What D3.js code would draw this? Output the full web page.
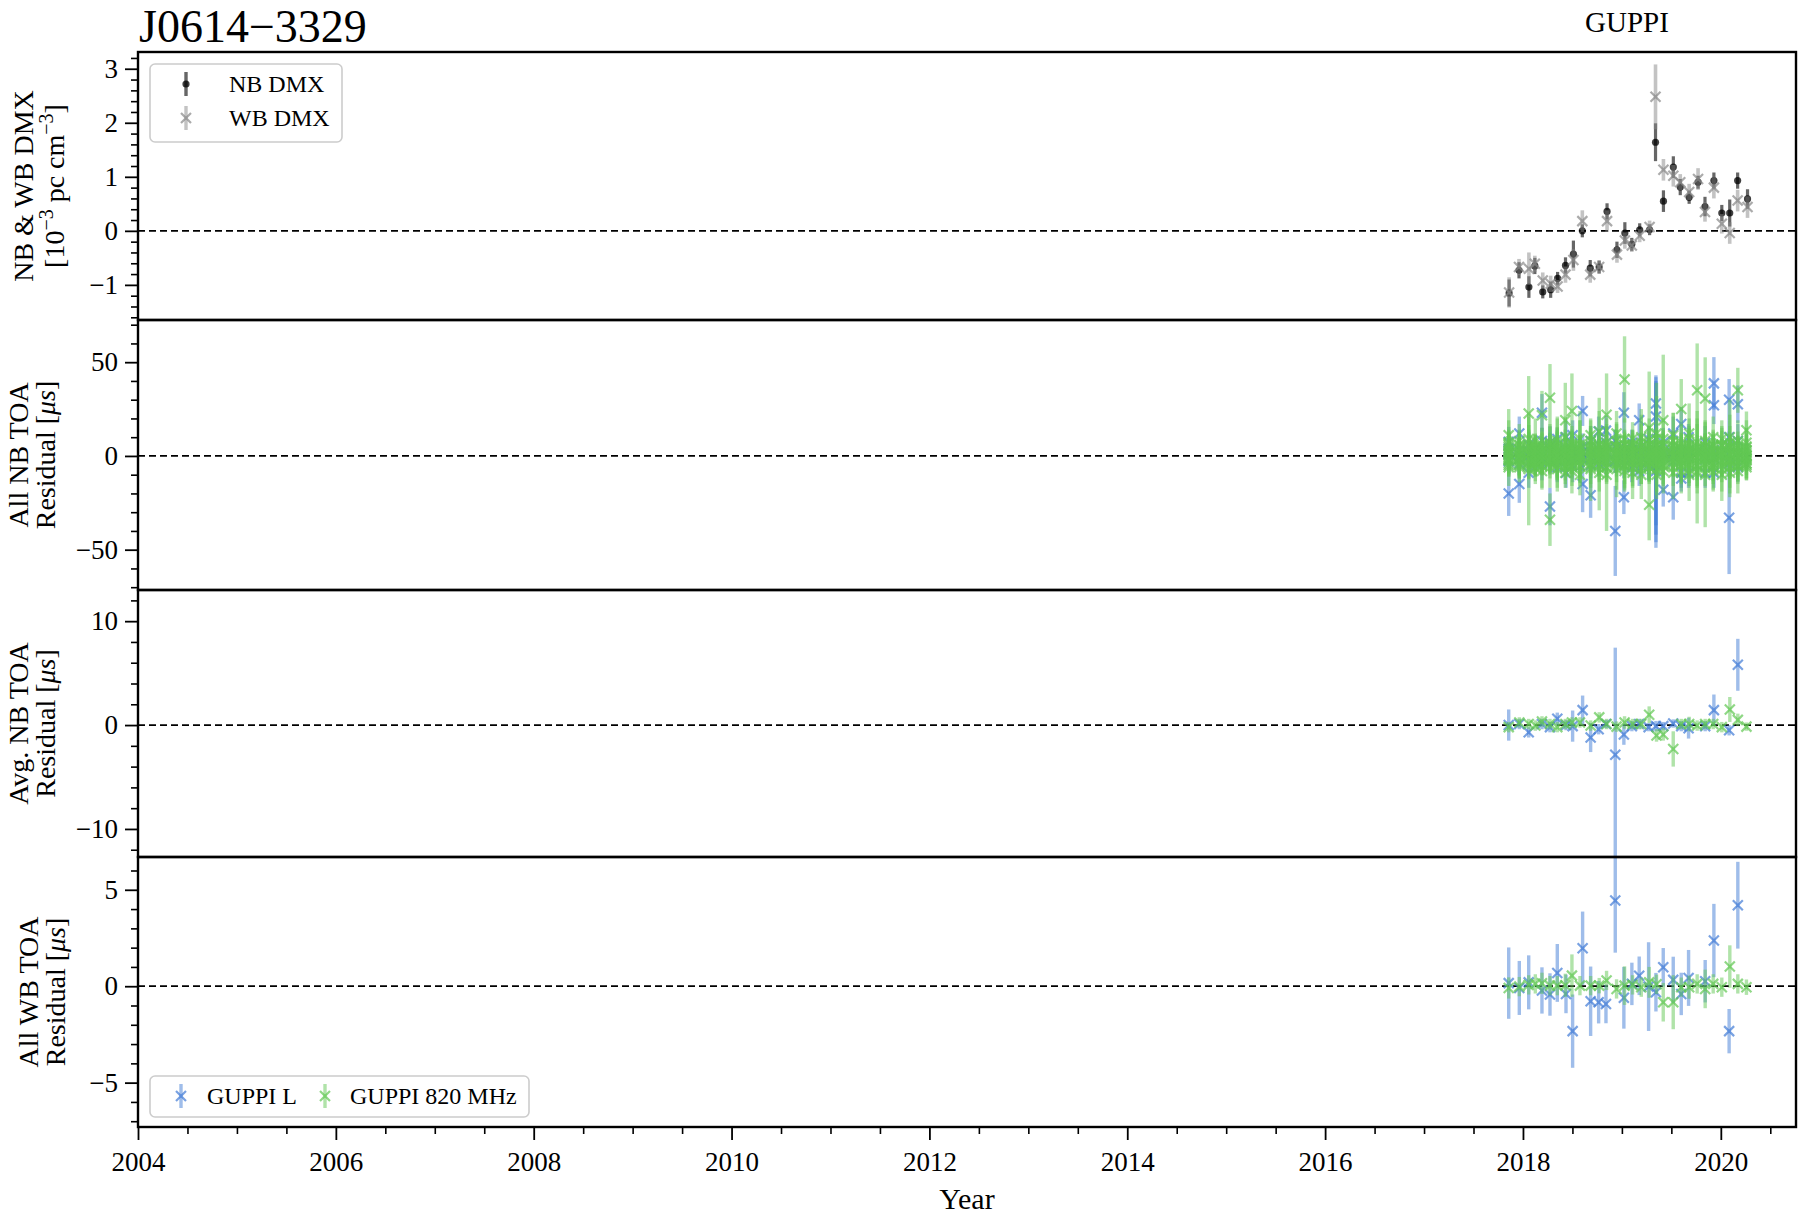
<!DOCTYPE html>
<html>
<head>
<meta charset="utf-8">
<script src="https://cdn.jsdelivr.net/npm/d3@7"></script>
<style>
  body { margin: 0; background: #fff; }
  text { font-family: "Liberation Serif", "Times New Roman", serif; fill: #000; }
</style>
</head>
<body>
<svg id="chart" width="1800" height="1216"></svg>
<script>
// ---- DMX (panel 1) ----
const dmxYears = [2017.86, 2017.96, 2018.06, 2018.12, 2018.20, 2018.28, 2018.35, 2018.43, 2018.51, 2018.60,
  2018.68, 2018.77, 2018.85, 2018.95, 2019.03, 2019.10, 2019.18, 2019.28, 2019.34, 2019.42,
  2019.52, 2019.59, 2019.68, 2019.77, 2019.84, 2019.93, 2020.01, 2020.09, 2020.17, 2020.27]
const nbDmx = [-1.15, -0.73, -1.04, -0.65, -1.13, -1.09, -0.88, -0.64, -0.43, 0.0,
  -0.69, -0.67, 0.36, -0.35, -0.04, -0.25, 0.02, 0.02, 1.64, 0.55,
  1.18, 0.81, 0.62, 0.9, 0.45, 0.93, 0.33, 0.33, 0.93, 0.59]
const nbDmxErr = [0.25, 0.15, 0.2, 0.15, 0.12, 0.15, 0.12, 0.15, 0.25, 0.12,
  0.15, 0.12, 0.15, 0.15, 0.2, 0.12, 0.12, 0.1, 0.35, 0.2,
  0.2, 0.15, 0.12, 0.12, 0.18, 0.15, 0.15, 0.25, 0.15, 0.18]
const wbDmx = [-1.14, -0.67, -0.7, -0.61, -0.92, -0.98, -1.03, -0.81, -0.54, 0.18,
  -0.81, -0.67, 0.18, -0.44, -0.18, -0.27, -0.09, 0.07, 2.48, 1.13,
  1.02, 0.9, 0.72, 0.96, 0.35, 0.8, 0.13, -0.04, 0.56, 0.44]
const wbDmxErr = [0.28, 0.15, 0.3, 0.15, 0.15, 0.15, 0.12, 0.15, 0.2, 0.2,
  0.15, 0.12, 0.2, 0.15, 0.15, 0.12, 0.12, 0.12, 0.6, 0.2,
  0.2, 0.15, 0.15, 0.2, 0.18, 0.2, 0.18, 0.2, 0.2, 0.2]

// ---- epochs per receiver ----
const yearsL = [2017.856, 2017.963, 2018.058, 2018.192, 2018.273, 2018.347, 2018.435, 2018.502, 2018.603, 2018.684,
  2018.765, 2018.839, 2018.933, 2019.020, 2019.101, 2019.175, 2019.270, 2019.344, 2019.418, 2019.519,
  2019.600, 2019.674, 2019.842, 2019.930, 2020.084, 2020.172]
const years820 = [2017.856, 2017.963, 2018.058, 2018.125, 2018.192, 2018.273, 2018.347, 2018.428, 2018.495, 2018.576,
  2018.684, 2018.771, 2018.845, 2018.946, 2019.027, 2019.108, 2019.196, 2019.276, 2019.350, 2019.418,
  2019.519, 2019.600, 2019.680, 2019.761, 2019.842, 2019.923, 2020.010, 2020.091, 2020.172, 2020.259]

// ---- all NB TOA residuals (panel 2), one list per epoch ----
const nbResL = [
  [-20, 7.5, -3, 2, 1, -2, 4], [-15, 12, 3, -4, 0.5, -1.5], [-9, 6, 0, 2.5, -3], [23, -4, 2, 8, -1, 3], [-27, 5, -3, 7, 1.5],
  [3, -6, 9, 1, -2.5], [-9, 10, 2, -3, 0.5, 4], [11, -5, 3, -1, 1.5], [24, -15, 5, -2, 0, 2], [-21, 8, 2, -5, 1, -1],
  [13, -4, 6, 0.5, -2], [13.5, -3, 2, 7, -1], [-40, 5, -2, 8, 1, -3], [23, -22, 3, -5, 0.5, 2], [-6, 7, 1, -1.5, 3],
  [19, -8, 3, 0, -2.5], [-5, 9, 2, -3, 1], [28, 21, -5, 3, 0, -8], [-18, 7, 2, -1, 0.5], [-22, 12, -3, 1.5, -0.5],
  [17, -9, 2, -12, 0.5, 3], [-9, 10, 3, -1, 1], [-9, 7, 2, 0, -2], [38.7, 27, -9, 3, -1], [30, -33, 5, -4, 10, 0.5], [27.6, -6, 2, 8, -1]]
const nbErrL = [
  [12, 8, 6, 5, 6, 7, 5], [10, 9, 7, 6, 5, 7], [8, 7, 6, 6, 5], [10, 9, 6, 7, 6, 5], [10, 8, 6, 9, 6],
  [7, 8, 6, 5, 6], [8, 9, 6, 7, 5, 6], [8, 9, 6, 7, 5], [8, 15, 7, 6, 6, 5], [12, 8, 6, 7, 6, 5],
  [8, 7, 6, 6, 5], [8, 7, 6, 9, 6], [24, 9, 7, 6, 5, 6], [11, 9, 8, 7, 6, 5], [8, 7, 6, 5, 6],
  [9, 8, 7, 6, 5], [8, 7, 6, 7, 6], [12, 10, 44, 40, 42, 38], [9, 8, 6, 5, 6], [12, 9, 7, 6, 5],
  [9, 8, 6, 7, 5, 6], [8, 7, 6, 5, 6], [8, 9, 7, 6, 5], [14, 10, 8, 6, 5], [11, 30, 8, 7, 9, 5], [10, 8, 7, 9, 6]]
const nbRes820 = [
  [11, 3, -2, 5, -4, 1, -6, 7], [2, -3, 6, -1, 4, -5, 0, 8], [22.6, -4, 3, -7, 1, 5, -2, 9],
  [-3, 4, 1, -6, 8, -1, 3, -4], [21.7, -5, 2, 6, -2, 4, -8, 0], [31, -34, 4, -3, 7, -1, 2, -6],
  [5, -2, 8, -7, 1, 3, -4, 0], [19, -9, 2, -3, 10, 0, 4, -5], [24, -6, 3, -2, 7, -8, 1, 5],
  [4, -3, 9, -5, 1, -10, 6, 0], [3, -7, 11, -2, 5, -4, 0, 8], [-5, 6, 2, -9, 4, -1, 13, 1],
  [22, -6, 3, 7, -3, 0, -10, 5], [-4, 2, 8, -7, 0, 5, -2, 12], [40.8, -5, 3, -8, 6, 1, -3, 9],
  [-2, 5, -6, 9, 1, -4, 3, -9], [5, -7, 2, 10, -3, 7, -1, -10], [-26, 6, -3, 2, 8, -6, 0, 15],
  [-7, 3, 9, -2, 5, -10, 1, 12], [19, -3, 6, -8, 2, 9, -5, 0], [8, -6, 3, -2, 11, -9, 0, 5],
  [25, -4, 2, 7, -8, 0, 4, -3], [3, -7, 9, -2, 6, -10, 1, 12], [35, -5, 2, -9, 7, 0, -8, 4],
  [30.6, -6, 3, 8, -2, 5, -10, 0], [-4, 6, 1, -8, 10, -1, 3, -6], [5, -3, 9, -7, 2, -10, 0, 6],
  [-2, 7, -6, 3, 10, -9, 1, 5], [35, -5, 2, 8, -3, 6, -8, 0], [13.7, -4, 3, 7, -6, 0, 5, -2]]
const nbErr820 = [
  [14, 6, 8, 9, 7, 5, 10, 12], [7, 9, 6, 8, 10, 7, 5, 9], [20, 8, 7, 30, 6, 9, 7, 12],
  [8, 7, 11, 9, 12, 6, 8, 7], [13, 12, 7, 9, 8, 6, 10, 7], [18, 14, 8, 9, 10, 7, 6, 11],
  [9, 7, 12, 10, 20, 6, 9, 13], [20, 8, 9, 7, 11, 6, 8, 10], [20, 10, 8, 9, 7, 12, 6, 8],
  [20, 9, 10, 8, 7, 11, 13, 6], [12, 10, 9, 8, 7, 20, 6, 11], [9, 8, 7, 10, 6, 8, 11, 30],
  [22, 9, 8, 10, 7, 6, 30, 8], [10, 8, 9, 11, 7, 6, 20, 12], [23, 12, 9, 10, 8, 7, 16, 11],
  [10, 7, 11, 9, 8, 12, 6, 14], [20, 8, 9, 12, 7, 10, 6, 13], [19, 10, 9, 7, 12, 8, 6, 30],
  [12, 9, 30, 8, 10, 13, 7, 20], [35, 9, 8, 12, 7, 11, 10, 6], [15, 10, 8, 9, 12, 14, 7, 8],
  [16, 11, 9, 10, 12, 7, 8, 9], [12, 9, 11, 8, 10, 14, 7, 16], [25, 12, 9, 11, 10, 7, 28, 20],
  [22, 10, 9, 11, 8, 7, 28, 6], [9, 8, 12, 10, 11, 7, 6, 13], [11, 8, 10, 12, 7, 14, 6, 9],
  [10, 9, 11, 8, 12, 13, 7, 25], [12, 10, 9, 11, 8, 7, 12, 6], [10, 8, 9, 12, 7, 6, 10, 8]]
// the many small-residual 820 MHz TOAs that make the solid core of panel 2
const coreRes820 = [
  [1.5, -2.5, 4, -1, 2.5, -5, 0.5, 6], [-1.5, 3.5, -4.5, 0.5, 2, -2, 5.5, -6], [0.5, -1.5, 2.5, -3.5, 4.5, -5.5, 1, 6.5],
  [2, -2.5, 5, -0.5, 1.5, -4, 3.5, -6.5], [-1, 1.5, -3, 3, -5.5, 5, 0, -2], [1, -1.5, 3.5, -4, 5.5, -2.5, 0.5, 6],
  [-0.5, 2.5, -3, 4.5, -5, 1.5, -1.5, 6.5], [1.5, -2, 3, -4.5, 5, -6, 0, 2.5], [-1, 2, -3.5, 4, -5, 0.5, 6, -2.5],
  [2.5, -1, 3.5, -3, 0.5, -5.5, 5, -1.5], [-2, 1, 4, -4.5, 2.5, -1, 6, -6], [1, -3, 3, -0.5, 5, -5, 2, -2],
  [-1.5, 2, -4, 4.5, 0.5, -6, 1.5, 5.5], [2, -1, 3.5, -3.5, 5, -5, 0, 1], [-0.5, 2.5, -2.5, 4, -4.5, 6, -6, 1],
  [1.5, -1.5, 3, -4, 4.5, -2.5, 0, 6], [-1, 1, -3.5, 3.5, -5.5, 5, 2, -2], [0.5, -2, 2.5, -4, 4, -5.5, 6, -1],
  [1.5, -1, 3.5, -3, 5.5, -4.5, 0, 2], [-2, 1, -4, 3, 5, -5.5, 1.5, -0.5], [1, -2.5, 3, -4, 5.5, -1, 0, 4],
  [-1.5, 2, -3, 3.5, -5, 5.5, 0.5, -2], [2, -1, 4, -4, 0.5, -5.5, 5, -2.5], [-1, 1.5, -3.5, 3, -5, 5, 0, 2.5],
  [1.5, -1.5, 3.5, -3.5, 5, -4.5, 0.5, -1], [-0.5, 2.5, -2, 4.5, -4.5, 5.5, 0, -6], [1, -2, 3, -3.5, 5.5, -5, 0.5, 2],
  [-1.5, 1.5, -3, 4, -5, 5, 0, -2.5], [2, -1, 3.5, -4, 4.5, -5.5, 0.5, 1.5], [-1, 1.5, -2.5, 3, -4, 4.5, 0, -5]]
const coreErr820 = [
  [6, 5, 8, 7, 9, 6, 10, 7], [5, 7, 6, 8, 6, 9, 7, 8], [7, 6, 9, 5, 8, 7, 6, 10],
  [6, 8, 5, 7, 9, 6, 8, 7], [8, 6, 7, 9, 5, 8, 6, 7], [7, 5, 8, 6, 10, 7, 9, 6],
  [6, 7, 9, 8, 6, 5, 7, 9], [8, 6, 7, 5, 9, 7, 6, 8], [5, 8, 6, 9, 7, 6, 10, 7],
  [7, 6, 8, 7, 5, 9, 6, 8], [6, 9, 7, 6, 8, 5, 7, 9], [8, 7, 5, 9, 6, 8, 7, 6],
  [7, 6, 9, 7, 5, 8, 6, 10], [6, 8, 7, 5, 9, 6, 8, 7], [9, 7, 6, 8, 7, 5, 9, 6],
  [6, 5, 8, 7, 9, 6, 7, 8], [7, 8, 6, 9, 5, 7, 8, 6], [8, 6, 7, 5, 9, 8, 6, 7],
  [6, 7, 9, 8, 6, 7, 5, 9], [7, 5, 6, 9, 8, 6, 7, 8], [9, 6, 8, 7, 5, 9, 6, 7],
  [6, 8, 7, 6, 9, 7, 5, 8], [7, 6, 5, 8, 7, 9, 6, 7], [8, 7, 9, 6, 8, 5, 7, 6],
  [6, 9, 7, 8, 6, 7, 8, 5], [7, 6, 8, 5, 9, 6, 7, 9], [5, 8, 6, 7, 8, 9, 6, 7],
  [8, 7, 9, 6, 7, 5, 8, 6], [6, 5, 7, 9, 6, 8, 7, 8], [7, 8, 6, 5, 9, 7, 6, 7]]

// ---- averaged NB TOA residuals (panel 3) ----
const avgResL = [0.0, 0.1, -0.7, 0.1, -0.2, 0.6, 0.0, -0.1, 1.44, -1.2,
  -0.4, 0.1, -2.85, -0.9, -0.1, 0.1, -0.2, -0.1, -0.1, 0.15,
  -0.1, -0.3, -0.1, 1.44, -0.5, 5.8]
const avgErrL = [1.5, 0.5, 0.5, 0.5, 0.5, 0.6, 0.5, 1.5, 1.4, 1.4,
  0.5, 0.4, 10.3, 1.0, 0.5, 0.5, 0.4, 0.5, 0.4, 0.4,
  0.5, 1.0, 0.5, 1.5, 0.5, 2.5]
const avgRes820 = [-0.2, 0.25, 0.1, -0.05, 0.35, 0.1, -0.2, 0.1, 0.25, 0.25,
  -0.05, 0.74, 0.1, -0.15, 0.25, 0.1, 0.1, 1.0, -1.0, -0.9,
  -2.3, 0.1, 0.1, -0.05, 0.1, 0.1, -0.2, 1.5, 0.5, -0.15]
const avgErr820 = [0.5, 0.5, 0.5, 0.5, 0.5, 0.5, 0.5, 0.5, 0.5, 0.5,
  0.5, 0.5, 0.5, 0.5, 0.6, 0.5, 0.5, 0.8, 0.6, 0.6,
  1.7, 0.5, 0.7, 0.5, 0.5, 0.5, 0.5, 1.2, 0.6, 0.4]

// ---- WB TOA residuals (panel 4) ----
const wbResL = [0.16, -0.09, 0.2, -0.22, -0.43, 0.69, -0.4, -2.33, 1.97, -0.78,
  -0.83, -0.92, 4.44, -0.6, 0.12, 0.54, -0.02, -0.31, 0.98, 0.33,
  -0.4, 0.43, 0.26, 2.37, -2.33, 4.2]
const wbErrL = [1.85, 1.4, 1.4, 1.2, 1.1, 1.5, 1.0, 1.9, 1.9, 1.8,
  1.1, 1.0, 2.7, 1.6, 1.1, 1.0, 2.3, 1.0, 1.0, 1.2,
  1.1, 1.45, 1.1, 1.9, 1.15, 2.25]
const wbRes820 = [-0.09, -0.02, 0.07, 0.12, 0.15, 0.03, 0.03, 0.05, 0.55, 0.03,
  0.03, 0.03, 0.3, -0.14, 0.03, 0.07, -0.05, 0.2, 0.1, -0.83,
  -0.83, -0.05, -0.05, 0.12, -0.14, 0.12, -0.05, 1.02, 0.12, -0.05]
const wbErr820 = [0.55, 0.5, 0.5, 0.5, 0.55, 0.5, 0.5, 0.6, 1.1, 0.5,
  0.5, 0.4, 0.5, 0.5, 1.0, 0.5, 0.5, 0.8, 0.5, 1.0,
  1.4, 0.5, 0.6, 0.5, 1.0, 0.5, 0.5, 1.1, 0.5, 0.4]

const xTicks = [2004, 2006, 2008, 2010, 2012, 2014, 2016, 2018, 2020]
const colorL = "#407BD5"
const color820 = "#61C853"

// ------------------------------------------------------------------
const svg = d3.select("#chart")
const left = 138, right = 1796
const x = d3.scaleLinear().domain([2004, 2020.76]).range([left, right])

const panels = [
  { top: 52, bottom: 320, domain: [-1.65, 3.31], major: [-1, 0, 1, 2, 3], minorStep: 0.2,
    label: ["NB & WB DMX", "dmxunit"], labelX: [23, 54] },
  { top: 320, bottom: 590, domain: [-71.5, 72.5], major: [-50, 0, 50], minorStep: 10,
    label: ["All NB TOA", "res"], labelX: [18, 45] },
  { top: 590, bottom: 857, domain: [-12.7, 13.0], major: [-10, 0, 10], minorStep: 2,
    label: ["Avg. NB TOA", "res"], labelX: [18, 45] },
  { top: 857, bottom: 1127, domain: [-7.3, 6.7], major: [-5, 0, 5], minorStep: 1,
    label: ["All WB TOA", "res"], labelX: [28, 55] },
]

const fmt = d3.format("")

panels.forEach((p, i) => {
  p.y = d3.scaleLinear().domain(p.domain).range([p.bottom, p.top])
  const g = svg.append("g")
  p.g = g

  g.append("clipPath").attr("id", "clip" + i)
    .append("rect").attr("x", left).attr("y", p.top).attr("width", right - left).attr("height", p.bottom - p.top)

  // minor ticks
  const minor = d3.range(Math.ceil(p.domain[0] / p.minorStep), Math.floor(p.domain[1] / p.minorStep) + 1)
    .map((k) => +(k * p.minorStep).toFixed(3))
    .filter((v) => !p.major.includes(v))
  g.append("g").attr("transform", `translate(${left},0)`)
    .call(d3.axisLeft(p.y).tickValues(minor).tickSize(7).tickFormat(""))
    .call((a) => a.select(".domain").remove())
    .call((a) => a.selectAll("line").attr("stroke-width", 1.6))

  g.append("g").attr("transform", `translate(${left},0)`)
    .call(d3.axisLeft(p.y).tickValues(p.major).tickSize(13).tickPadding(7).tickFormat(fmt))
    .call((a) => a.select(".domain").remove())
    .call((a) => a.selectAll("line").attr("stroke-width", 1.8))
    .call((a) => a.selectAll("text").attr("font-size", 27).attr("font-family", "Liberation Serif"))

  // zero line
  g.append("line")
    .attr("x1", left).attr("x2", right)
    .attr("y1", p.y(0)).attr("y2", p.y(0))
    .attr("stroke", "#000").attr("stroke-width", 1.8).attr("stroke-dasharray", "7,4")

  // y label
  const cy = (p.top + p.bottom) / 2
  const lab = g.append("g").attr("font-size", 28)
  lab.append("text").attr("transform", `translate(${p.labelX[0] + 10},${cy}) rotate(-90)`)
    .attr("text-anchor", "middle").attr("font-size", 28).text(p.label[0])
  const t2 = lab.append("text").attr("transform", `translate(${p.labelX[1] + 10},${cy}) rotate(-90)`)
    .attr("text-anchor", "middle").attr("font-size", 28)
  if (p.label[1] === "dmxunit") {
    t2.append("tspan").text("[10")
    t2.append("tspan").attr("dy", -11).attr("font-size", 20).text("\u22123")
    t2.append("tspan").attr("dy", 11).text(" pc cm")
    t2.append("tspan").attr("dy", -11).attr("font-size", 20).text("\u22123")
    t2.append("tspan").attr("dy", 11).text("]")
  } else {
    t2.append("tspan").text("Residual [")
    t2.append("tspan").attr("font-style", "italic").text("\u03bcs")
    t2.append("tspan").text("]")
  }
})

// ---- marker helpers ----
function drawErr(g, pts, y, opt) {
  g.append("g").selectAll("line").data(pts).join("line")
    .attr("x1", (d) => x(d.t)).attr("x2", (d) => x(d.t))
    .attr("y1", (d) => y(d.v - d.e)).attr("y2", (d) => y(d.v + d.e))
    .attr("stroke", opt.barColor).attr("stroke-opacity", opt.barAlpha).attr("stroke-width", opt.barWidth)
}
function drawX(g, pts, y, color, alpha, s) {
  g.append("g").selectAll("path").data(pts).join("path")
    .attr("d", (d) => {
      const cx = x(d.t), cy = y(d.v)
      return `M${cx - s},${cy - s}L${cx + s},${cy + s}M${cx - s},${cy + s}L${cx + s},${cy - s}`
    })
    .attr("stroke", color).attr("stroke-opacity", alpha).attr("stroke-width", 2.2).attr("fill", "none")
}
function drawDots(g, pts, y, color, alpha, r) {
  g.append("g").selectAll("circle").data(pts).join("circle")
    .attr("cx", (d) => x(d.t)).attr("cy", (d) => y(d.v)).attr("r", r)
    .attr("fill", color).attr("fill-opacity", alpha)
}
function series(years, vals, errs) {
  return years.map((t, i) => ({ t, v: vals[i], e: errs[i] }))
}
function nested(years, vals, errs) {
  const out = []
  years.forEach((t, i) => vals[i].forEach((v, j) => out.push({ t, v, e: errs[i][j] })))
  return out
}

// ---- panel 1: DMX ----
{
  const p = panels[0]
  const g = p.g.append("g").attr("clip-path", "url(#clip0)")
  const nb = series(dmxYears, nbDmx, nbDmxErr)
  const wb = series(dmxYears, wbDmx, wbDmxErr)
  drawErr(g, nb, p.y, { barColor: "#333", barAlpha: 0.75, barWidth: 3.2 })
  drawDots(g, nb, p.y, "#000", 0.75, 3.6)
  drawErr(g, wb, p.y, { barColor: "#888", barAlpha: 0.5, barWidth: 3.6 })
  drawX(g, wb, p.y, "#888", 0.7, 5)
}

// ---- panels 2-4: residuals ----
const resSets = [
  [nested(yearsL, nbResL, nbErrL),
   nested(years820, coreRes820, coreErr820).concat(nested(years820, nbRes820, nbErr820))],
  [series(yearsL, avgResL, avgErrL), series(years820, avgRes820, avgErr820)],
  [series(yearsL, wbResL, wbErrL), series(years820, wbRes820, wbErr820)],
]
resSets.forEach(([ptsL, pts820], k) => {
  const p = panels[k + 1]
  const g = p.g.append("g").attr("clip-path", `url(#clip${k + 1})`)
  drawErr(g, ptsL, p.y, { barColor: colorL, barAlpha: 0.5, barWidth: 3.4 })
  drawX(g, ptsL, p.y, colorL, 0.7, 5)
  drawErr(g, pts820, p.y, { barColor: color820, barAlpha: 0.5, barWidth: 3.4 })
  drawX(g, pts820, p.y, color820, 0.7, 5)
})

// ---- frames ----
panels.forEach((p) => {
  svg.append("rect").attr("x", left).attr("y", p.top)
    .attr("width", right - left).attr("height", p.bottom - p.top)
    .attr("fill", "none").attr("stroke", "#000").attr("stroke-width", 2.4)
})

// ---- x axis ----
const last = panels[3]
const xMinor = d3.range(2004, 2020.76, 0.5).filter((v) => !xTicks.includes(v))
svg.append("g").attr("transform", `translate(0,${last.bottom})`)
  .call(d3.axisBottom(x).tickValues(xMinor).tickSize(7).tickFormat(""))
  .call((a) => a.select(".domain").remove())
  .call((a) => a.selectAll("line").attr("stroke-width", 1.6))
svg.append("g").attr("transform", `translate(0,${last.bottom})`)
  .call(d3.axisBottom(x).tickValues(xTicks).tickSize(13).tickPadding(12).tickFormat(d3.format("d")))
  .call((a) => a.select(".domain").remove())
  .call((a) => a.selectAll("line").attr("stroke-width", 1.8))
  .call((a) => a.selectAll("text").attr("font-size", 27).attr("font-family", "Liberation Serif"))

svg.append("text").attr("x", (left + right) / 2).attr("y", 1209)
  .attr("text-anchor", "middle").attr("font-size", 30).text("Year")

// ---- titles ----
svg.append("text").attr("x", 139).attr("y", 42).attr("font-size", 46).text("J0614\u22123329")
svg.append("text").attr("x", 1627).attr("y", 32).attr("text-anchor", "middle").attr("font-size", 29).text("GUPPI")

// ---- legends ----
function legendBox(x0, y0, w, h) {
  svg.append("rect").attr("x", x0).attr("y", y0).attr("width", w).attr("height", h).attr("rx", 5)
    .attr("fill", "#fff").attr("fill-opacity", 0.8).attr("stroke", "#ccc").attr("stroke-width", 1.6)
}
function legendHandle(cx, cy, kind, color, barColor, barAlpha) {
  svg.append("line").attr("x1", cx).attr("x2", cx).attr("y1", cy - 12).attr("y2", cy + 12)
    .attr("stroke", barColor).attr("stroke-opacity", barAlpha).attr("stroke-width", 3.4)
  if (kind === "dot") {
    svg.append("circle").attr("cx", cx).attr("cy", cy).attr("r", 3.6).attr("fill", color).attr("fill-opacity", 0.75)
  } else {
    const s = 5
    svg.append("path").attr("d", `M${cx - s},${cy - s}L${cx + s},${cy + s}M${cx - s},${cy + s}L${cx + s},${cy - s}`)
      .attr("stroke", color).attr("stroke-opacity", 0.7).attr("stroke-width", 2.2)
  }
}
legendBox(150, 64, 192, 78)
legendHandle(186, 84, "dot", "#000", "#333", 0.75)
legendHandle(186, 118, "x", "#888", "#888", 0.5)
svg.append("text").attr("x", 229).attr("y", 92).attr("font-size", 24).text("NB DMX")
svg.append("text").attr("x", 229).attr("y", 126).attr("font-size", 24).text("WB DMX")

legendBox(150, 1076, 379, 41)
legendHandle(181, 1096, "x", colorL, colorL, 0.5)
svg.append("text").attr("x", 207).attr("y", 1104).attr("font-size", 24).text("GUPPI L")
legendHandle(325, 1096, "x", color820, color820, 0.5)
svg.append("text").attr("x", 350).attr("y", 1104).attr("font-size", 24).text("GUPPI 820 MHz")
</script>
</body>
</html>
